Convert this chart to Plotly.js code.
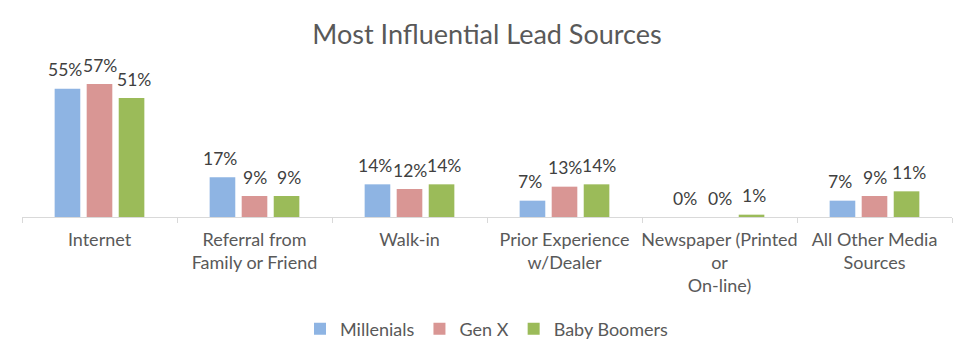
<!DOCTYPE html>
<html>
<head>
<meta charset="utf-8">
<script src="https://cdn.plot.ly/plotly-3.0.1.min.js"></script>
<style>html,body{margin:0;padding:0;background:#fff;}#chart{width:974px;height:359px;}</style>
</head>
<body>
<div id="chart"></div>
<script>
const categories = ["Internet", "Referral from<br>Family or Friend", "Walk-in", "Prior Experience<br>w/Dealer", "Newspaper (Printed<br>or<br>On-line)", "All Other Media<br>Sources"];
const seriesNames = ["Millenials", "Gen X", "Baby Boomers"];
const millenials = [55, 17, 14, 7, 0, 7];
const genX = [57, 9, 12, 13, 0, 9];
const babyBoomers = [51, 9, 14, 14, 1, 11];
const colors = ["#8EB4E3", "#D99694", "#9BBB59"];

const FONT = "Lato, 'Open Sans', sans-serif";
const allSeries = [millenials, genX, babyBoomers];

const traces = allSeries.map((vals, i) => ({
  type: "bar",
  name: seriesNames[i],
  x: categories,
  y: vals,
  marker: {color: colors[i]},
  hoverinfo: "skip"
}));

const annotations = [];
allSeries.forEach((vals, i) => {
  vals.forEach((v, j) => {
    annotations.push({
      x: categories[j], y: v, xref: "x", yref: "y",
      text: v + "%", showarrow: false,
      xshift: (i - 1) * 34.5, yshift: 19, yanchor: "middle",
      font: {family: FONT, size: 17.5, color: "#404040"}
    });
  });
});

const layout = {
  width: 974, height: 359,
  margin: {l: 22, r: 22, t: 77, b: 142},
  paper_bgcolor: "#fff", plot_bgcolor: "#fff",
  title: {text: "Most Influential Lead Sources", x: 0.5, xanchor: "center", y: 0.905, yanchor: "middle",
          font: {family: FONT, size: 27, color: "#595959"}},
  barmode: "group",
  bargap: 0.38,
  bargroupgap: 0.2,
  xaxis: {
    type: "category",
    showline: true, linecolor: "#D9D9D9", linewidth: 1,
    ticks: "outside", tickson: "boundaries", ticklen: 5, tickcolor: "#D9D9D9",
    tickangle: 0,
    tickfont: {family: FONT, size: 18, color: "#595959"},
    ticklabelstandoff: 6,
    showgrid: false, zeroline: false, fixedrange: true
  },
  yaxis: {range: [0, 60], visible: false, showgrid: false, zeroline: false, fixedrange: true},
  showlegend: true,
  legend: {orientation: "h", x: 0.5, xanchor: "center", y: -0.8, yanchor: "middle",
           font: {family: FONT, size: 18, color: "#595959"}, itemwidth: 30, traceorder: "normal"},
  annotations: annotations
};

Plotly.newPlot("chart", traces, layout, {displayModeBar: false, staticPlot: true});
</script>
</body>
</html>
